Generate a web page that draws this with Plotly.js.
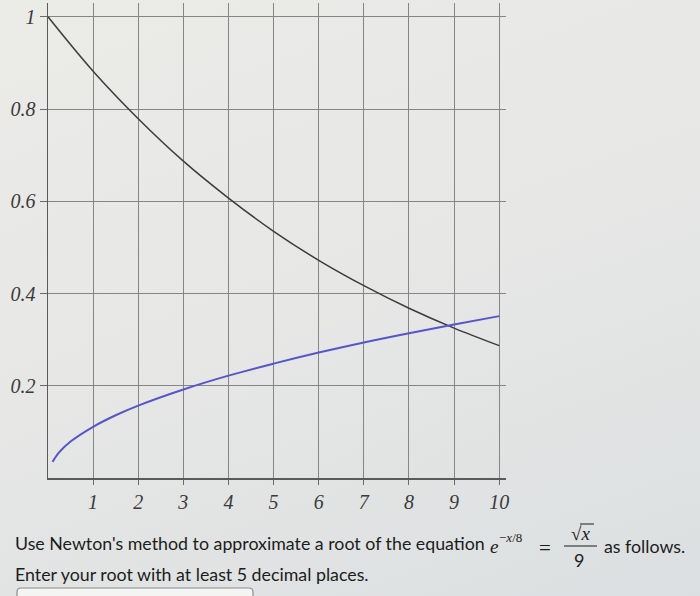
<!DOCTYPE html>
<html>
<head>
<meta charset="utf-8">
<script src="https://cdn.plot.ly/plotly-3.0.1.min.js"></script>
<style>
  html, body { margin: 0; padding: 0; }
  body {
    width: 700px; height: 596px; overflow: hidden;
    background: linear-gradient(160deg, #ebebe8 0%, #e7e8e6 45%, #dcdfe1 100%);
  }
  #chart { width: 700px; height: 596px; }
</style>
</head>
<body>
<div id="chart"></div>
<script>
// y = e^(-x/8), sampled values
const expX = [0, 1, 2, 3, 4, 5, 6, 7, 8, 9, 10];
const expY = [1.000, 0.882, 0.779, 0.687, 0.607, 0.535, 0.472, 0.417, 0.368, 0.325, 0.287];

// y = sqrt(x)/9, sampled values
const rootX = [0.1, 0.25, 0.5, 1, 1.5, 2, 3, 4, 5, 6, 7, 8, 9, 10];
const rootY = [0.035, 0.056, 0.079, 0.111, 0.136, 0.157, 0.192, 0.222, 0.248, 0.272, 0.294, 0.314, 0.333, 0.351];

// axis ticks
const xTicks = [1, 2, 3, 4, 5, 6, 7, 8, 9, 10];
const xTickText = ['1', '2', '3', '4', '5', '6', '7', '8', '9', '10'];
const yTicks = [0.2, 0.4, 0.6, 0.8, 1];
const yTickText = ['0.2', '0.4', '0.6', '0.8', '1'];

// plot area geometry (pixels)
const M = { l: 48, r: 194, t: 3, b: 118 };
const W = 700, H = 596;
const PW = W - M.l - M.r, PH = H - M.t - M.b;
const px = x => (x - M.l) / PW;
const py = y => (H - M.b - y) / PH;

const ink = '#1c1c1c';
const serif = 'Liberation Serif, DejaVu Serif, serif';
const tickFont = { family: serif, size: 20, color: '#3a3a3a', style: 'italic' };
const textFont = { family: 'Lato, Open Sans, sans-serif', size: 17.8, color: ink };

const traces = [
  {
    x: expX, y: expY, type: 'scatter', mode: 'lines',
    line: { color: '#3c3c3c', width: 1.5, shape: 'spline' },
    hoverinfo: 'skip'
  },
  {
    x: rootX, y: rootY, type: 'scatter', mode: 'lines',
    line: { color: '#5656c8', width: 2, shape: 'spline' },
    hoverinfo: 'skip'
  }
];

function note(text, x, y, font, anchor) {
  return {
    text: text, xref: 'paper', yref: 'paper', x: px(x), y: py(y),
    xanchor: anchor || 'left', yanchor: 'middle', showarrow: false, font: font
  };
}

const layout = {
  width: W, height: H,
  margin: M,
  paper_bgcolor: 'rgba(0,0,0,0)',
  plot_bgcolor: 'rgba(0,0,0,0)',
  showlegend: false,
  xaxis: {
    range: [0, 10.15],
    tickvals: xTicks, ticktext: xTickText,
    tickfont: tickFont,
    ticks: 'outside', ticklen: 5, tickcolor: '#6a6a6a', tickwidth: 1,
    showgrid: true, gridcolor: '#858585', gridwidth: 1,
    showline: true, linecolor: '#5a5a5a', linewidth: 1.5,
    zeroline: false, fixedrange: true
  },
  yaxis: {
    range: [0, 1.03],
    tickvals: yTicks, ticktext: yTickText,
    tickfont: tickFont,
    ticks: 'outside', ticklen: 7, tickcolor: '#6a6a6a', tickwidth: 1,
    showgrid: true, gridcolor: '#858585', gridwidth: 1,
    showline: true, linecolor: '#5a5a5a', linewidth: 1.5,
    zeroline: false, fixedrange: true
  },
  annotations: [
    note("Use Newton's method to approximate a root of the equation", 13, 543, textFont),
    note('e', 488, 546, { family: serif, size: 19, color: ink, style: 'italic' }),
    note('−<i>x</i>/8', 497, 537, { family: serif, size: 13, color: ink }),
    note('=', 545, 548, { family: serif, size: 21, color: ink }, 'center'),
    note('√<i>x</i>', 580, 533, { family: serif, size: 19, color: ink }, 'center'),
    note('9', 579, 560, { family: 'Lato, sans-serif', size: 18, color: ink }, 'center'),
    note('as follows.', 602, 546, textFont),
    note('Enter your root with at least 5 decimal places.', 13, 574, textFont)
  ],
  shapes: [
    // radical overbar
    { type: 'line', xref: 'paper', yref: 'paper', x0: px(580), x1: px(594), y0: py(524), y1: py(524),
      line: { color: ink, width: 1 } },
    // fraction bar
    { type: 'line', xref: 'paper', yref: 'paper', x0: px(564), x1: px(597), y0: py(546), y1: py(546),
      line: { color: ink, width: 1.2 } },
    // answer box (top edge visible)
    { type: 'path', xref: 'paper', yref: 'paper',
      path: `M ${px(17)},${py(610)} L ${px(17)},${py(592)} Q ${px(17)},${py(588)} ${px(21)},${py(588)} ` +
            `L ${px(249)},${py(588)} Q ${px(253)},${py(588)} ${px(253)},${py(592)} L ${px(253)},${py(610)}`,
      fillcolor: '#f4f4f2', line: { color: '#8c8c8c', width: 1.2 } }
  ]
};

Plotly.newPlot('chart', traces, layout, { displayModeBar: false, staticPlot: true });
</script>
</body>
</html>
